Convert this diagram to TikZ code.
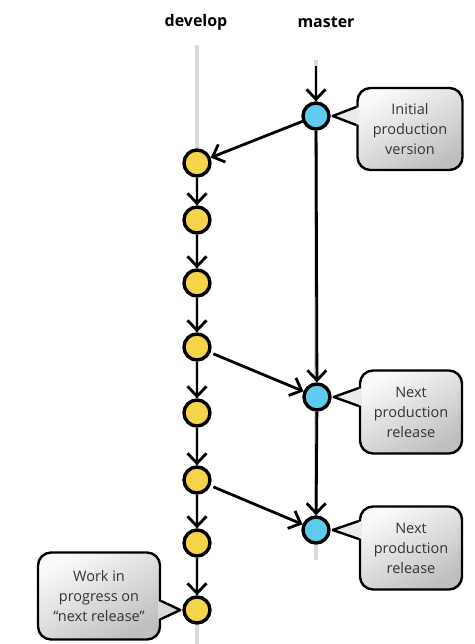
\documentclass[tikz,border=0pt]{standalone}
\usepackage{fontspec}
\setmainfont{Open Sans}
\usetikzlibrary{arrows.meta,calc}
\definecolor{devyellow}{RGB}{245,212,74}
\definecolor{mastblue}{RGB}{94,202,236}
\definecolor{lanegray}{RGB}{218,218,218}
\begin{document}
\begin{tikzpicture}[x=1pt,y=-1pt,
  commit/.style={circle,draw=black,line width=3.4pt,minimum size=26pt,inner sep=0pt},
  dev/.style={commit,fill=devyellow},
  mst/.style={commit,fill=mastblue},
  flow/.style={line width=2.8pt,-{Straight Barb[length=10pt,width=19pt,line width=2.8pt]}},
  lane/.style={line width=4.5pt,lanegray},
  note/.style={draw,line width=2.4pt,rounded corners=13pt,align=center,
    font=\fontsize{14.5}{20}\selectfont,text=black!80,
    top color=gray!4,bottom color=gray!50,shading angle=30},
  pointer/.style={line width=2.4pt,line join=round},
  branch/.style={font=\fontsize{16}{18}\selectfont\bfseries}]
\useasboundingbox (0,0) rectangle (474,644);
% branch names
\node[branch] (develop) at (196,22) {develop};
\node[branch] (master) at (326,22) {master};
% lanes
\draw[lane] (197,45) -- (197,644);
\draw[lane] (316,60) -- (316,560);
% commits
\node[mst] (m1) at (316,116) {};
\node[mst] (m2) at (317,397) {};
\node[mst] (m3) at (316,530) {};
\foreach \y [count=\i] in {163,220,283,347,413,480,543,610}
  \node[dev] (d\i) at (197,\y) {};
% arrows
\coordinate (start) at (316,66);
\draw[flow] (start) -- (m1);
\draw[flow] (m1) -- (d1);
\draw[flow] (m1) -- (m2);
\draw[flow] (m2) -- (m3);
\foreach \i [evaluate=\i as \j using int(\i+1)] in {1,...,7}
  \draw[flow] (d\i) -- (d\j);
\draw[flow,shorten <=3pt] (d4) -- (m2);
\draw[flow,shorten <=3pt] (d6) -- (m3);
% notes
\node[note,minimum width=105pt,minimum height=82pt] (n1) at (410,129) {Initial\\production\\version};
\node[note,minimum width=102pt,minimum height=83pt] (n2) at (411,412) {Next\\production\\release};
\node[note,minimum width=102pt,minimum height=83pt] (n3) at (411,548) {Next\\production\\release};
\node[note,minimum width=122pt,minimum height=87pt] (n4) at (99,596) {Work in\\progress on\\“next release”};
% pointers
\coordinate (p1) at ([xshift=2pt]m1.east);
\coordinate (p2) at ([xshift=2pt]m2.east);
\coordinate (p3) at ([xshift=2pt]m3.east);
\coordinate (p4) at ([xshift=-2pt]d8.west);
\foreach \n/\p in {n1/p1,n2/p2,n3/p3}
  \fill[gray!16] ($(\n.west |- \p)+(3,-9)$) -- (\p) -- ($(\n.west |- \p)+(3,9)$) -- cycle;
\fill[gray!30] ($(n4.east |- p4)+(-3,-9)$) -- (p4) -- ($(n4.east |- p4)+(-3,9)$) -- cycle;
\draw[pointer] ($(n1.west |- p1)+(0,-9)$) -- (p1) -- ($(n1.west |- p1)+(0,9)$);
\draw[pointer] ($(n2.west |- p2)+(0,-9)$) -- (p2) -- ($(n2.west |- p2)+(0,9)$);
\draw[pointer] ($(n3.west |- p3)+(0,-9)$) -- (p3) -- ($(n3.west |- p3)+(0,9)$);
\draw[pointer] ($(n4.east |- p4)+(0,-9)$) -- (p4) -- ($(n4.east |- p4)+(0,9)$);
\end{tikzpicture}
\end{document}
